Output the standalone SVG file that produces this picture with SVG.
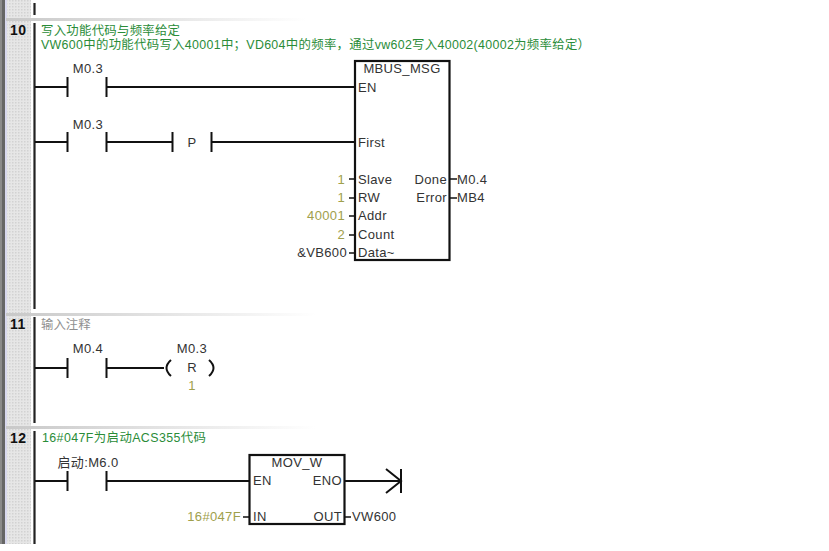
<svg xmlns="http://www.w3.org/2000/svg" width="829" height="551" viewBox="0 0 829 551">
<defs>
<style>
text{font-family:"Liberation Sans","Noto Sans CJK SC",sans-serif;font-size:13px;letter-spacing:.35px;fill:#333}
.num{font-size:14px;font-weight:bold;fill:#111;letter-spacing:.5px}
.cm{fill:#2a8c38;font-size:12.4px;letter-spacing:0}
.gr{fill:#8f8f8f;font-size:12.4px;letter-spacing:0}
.val{fill:#a0a04c}
.e{text-anchor:end}
.m{text-anchor:middle}
.w{stroke:#111;stroke-width:2;fill:none}
.p{stroke:#111;stroke-width:1.6;fill:none}
.box{stroke:#111;stroke-width:2.2;fill:#fff}
.rail{stroke:#222;stroke-width:2.2;fill:none}
</style>
<pattern id="h" width="3" height="3" patternUnits="userSpaceOnUse"><rect width="3" height="3" fill="#e6e6e6"/><rect width="1.5" height="1.5" fill="#d2d2d2"/></pattern>
<linearGradient id="f" x1="0" x2="1" y1="0" y2="0"><stop offset="0" stop-color="#c8c8c8"/><stop offset="1" stop-color="#ffffff"/></linearGradient>
</defs>
<rect width="829" height="551" fill="#fff"/>
<g id="sidebar">
<rect x="0" y="0" width="31" height="544" fill="url(#h)"/>
<rect x="0" y="0" width="2" height="544" fill="#8a8a8a"/>
<rect x="2" y="0" width="3" height="544" fill="#666"/>
<rect x="5" y="0" width="2" height="544" fill="#d8d8ee"/>
</g>
<g id="separators">
<rect x="6" y="18" width="300" height="3" fill="url(#f)"/>
<rect x="6" y="313" width="310" height="3" fill="url(#f)"/>
<rect x="6" y="426" width="310" height="3" fill="url(#f)"/>
</g>
<g id="rails">
<path class="rail" d="M34.500 3V15M34.500 23V309M34.500 317V423M34.500 431V544"/>
</g>
<g id="connectors">
<path class="w" d="M35 87H67M106 87H356M35 142H67M106 142H172M211 142H356M35 368H67M106 368H164M35 481H67M106 481H249M345 481H401"/>
<path class="w" d="M386 469L401 481L386 493M401 469V493"/>
<path class="p" d="M349 179H356M349 198H356M349 216H356M349 235H356M349 253H356M450 179H457M450 198H457M243 517H249M345 517H351"/>
</g>
<g id="labels">
<text class="num" x="10" y="35">10</text>
<text class="cm" x="41" y="35" textLength="139">写入功能代码与频率给定</text>
<text class="cm" x="41" y="49" textLength="549">VW600中的功能代码写入40001中；VD604中的频率，通过vw602写入40002(40002为频率给定）</text>
<text class="num" x="10" y="329">11</text>
<text class="gr" x="41" y="329">输入注释</text>
<text class="num" x="10" y="443">12</text>
<text class="cm" x="42" y="442" textLength="164">16#047F为启动ACS355代码</text>
</g>
<g id="contact-1"><path class="w" d="M67.500 77V97M106.500 77V97"/><text class="m" x="88" y="73">M0.3</text></g>
<g id="contact-2"><path class="w" d="M67.500 132V152M106.500 132V152"/><text class="m" x="88" y="129">M0.3</text></g>
<g id="edge-p"><path class="w" d="M172.500 132V152M211.500 132V152"/><text class="m" x="192" y="147">P</text></g>
<g id="mbus-msg">
<rect class="box" x="355" y="61" width="94.500" height="199"/>
<text class="m" x="402" y="73">MBUS_MSG</text>
<text x="358" y="92">EN</text><text x="358" y="147">First</text>
<text x="358" y="184">Slave</text><text x="358" y="202">RW</text><text x="358" y="220">Addr</text><text x="358" y="239">Count</text><text x="358" y="257">Data~</text>
<text class="e" x="447" y="184">Done</text><text class="e" x="447" y="202">Error</text>
<text class="val e" x="345" y="184">1</text><text class="val e" x="345" y="202">1</text><text class="val e" x="345" y="220">40001</text><text class="val e" x="345" y="239">2</text><text class="e" x="347" y="257">&amp;VB600</text>
<text x="457" y="184">M0.4</text><text x="457" y="202">MB4</text>
</g>
<g id="contact-3"><path class="w" d="M67.500 358V378M106.500 358V378"/><text class="m" x="88" y="353">M0.4</text></g>
<g id="coil-r">
<path class="w" d="M171 360Q162 368 171 376M209 360Q218 368 209 376"/>
<text class="m" x="192" y="372">R</text>
<text class="m" x="192" y="353">M0.3</text>
<text class="m val" x="192" y="390">1</text>
</g>
<g id="contact-4"><path class="w" d="M67.500 471V491M106.500 471V491"/><text class="m" x="88" y="467">启动:M6.0</text></g>
<g id="mov-w">
<rect class="box" x="249.500" y="455" width="95" height="69"/>
<text class="m" x="297" y="467">MOV_W</text>
<text x="253" y="485">EN</text><text class="e" x="342" y="485">ENO</text>
<text x="253" y="521">IN</text><text class="e" x="342" y="521">OUT</text>
<text class="val e" x="241" y="521">16#047F</text>
<text x="352" y="521">VW600</text>
</g>
</svg>
